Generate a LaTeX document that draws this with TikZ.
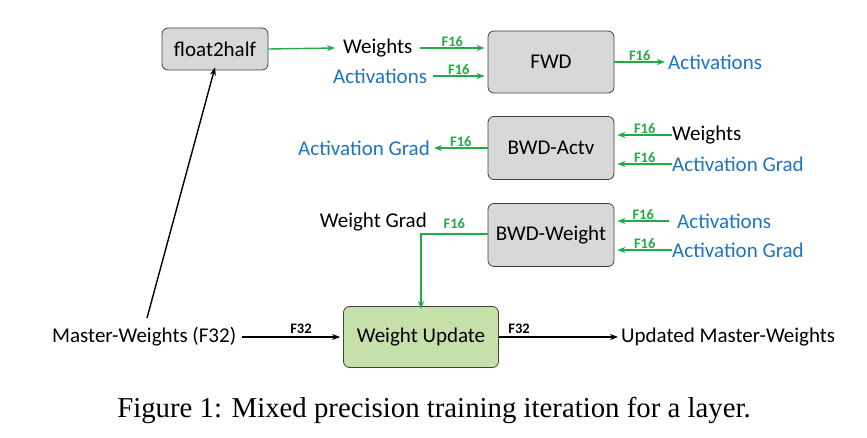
\documentclass[tikz,border=0pt]{standalone}
\usepackage{fontspec}
\setmainfont{Carlito}
\newfontfamily\capfont{Liberation Serif}
\usetikzlibrary{arrows.meta}
\definecolor{gr}{RGB}{34,170,70}
\definecolor{bl}{RGB}{30,115,195}
\definecolor{boxg}{RGB}{216,216,216}
\definecolor{boxgr}{RGB}{198,224,170}
\begin{document}
\begin{tikzpicture}[x=1pt,y=-1pt,
 box/.style={draw=black!75,line width=0.8pt,rounded corners=6pt,fill=boxg,font=\fontsize{21}{24}\selectfont},
 txt/.style={font=\fontsize{21}{24}\selectfont,inner sep=0pt},
 lab/.style={font=\bfseries\fontsize{14.5}{16}\selectfont,inner sep=1pt},
 ga/.style={draw=gr,line width=1.4pt,-{Stealth[length=8pt]}},
 ka/.style={draw=black,line width=1.4pt,-{Stealth[length=8pt]}}]
\useasboundingbox (0,0) rectangle (867,438);
\node[box,minimum width=106pt,minimum height=42pt] (f2h) at (215,49) {float2half};
\node[box,minimum width=126pt,minimum height=62pt] (fwd) at (551,62) {FWD};
\node[box,minimum width=126pt,minimum height=63pt] (ba) at (551,148) {BWD-Actv};
\node[box,minimum width=126pt,minimum height=63pt] (bw) at (551,235) {BWD-Weight};
\node[box,fill=boxgr,minimum width=155pt,minimum height=61pt] (wu) at (421,337) {Weight Update};
% FWD
\node[txt,anchor=west] (w1) at (343,48) {Weights};
\node[txt,text=bl,anchor=west] (a1) at (333,76) {Activations};
\coordinate (w1s) at (420,48); \coordinate (w1e) at ([xshift=-3pt]fwd.west|-w1s);
\coordinate (a1s) at (433,76); \coordinate (a1e) at ([xshift=-3pt]fwd.west|-a1s);
\draw[ga] (w1s) -- node[lab,text=gr,above] {F16} (w1e);
\draw[ga] (a1s) -- node[lab,text=gr,above] {F16} (a1e);
\draw[ga] (f2h.east) -- ([xshift=-8pt]w1.west);
\node[txt,text=bl,anchor=west] (a2) at (668,62) {Activations};
\draw[ga] (fwd.east) -- node[lab,text=gr,above] {F16} ([xshift=-3pt]a2.west);
% BWD-Actv
\node[txt,anchor=west] (w2) at (672,135) {Weights};
\node[txt,text=bl,anchor=west] (g1) at (672,164) {Activation Grad};
\draw[ga] (w2.west) -- node[lab,text=gr,above] {F16} ([xshift=3pt]ba.east|-w2.west);
\draw[ga] (g1.west) -- node[lab,text=gr,above] {F16} ([xshift=3pt]ba.east|-g1.west);
\node[txt,text=bl,anchor=east] (g2) at (430,148) {Activation Grad};
\draw[ga] (ba.west) -- node[lab,text=gr,above] {F16} ([xshift=4pt]g2.east);
% BWD-Weight
\node[txt,text=bl,anchor=west] (a3) at (677,221) {Activations};
\node[txt,text=bl,anchor=west] (g3) at (672,250) {Activation Grad};
\draw[ga] ([xshift=-8pt]a3.west) -- node[lab,text=gr,above] {F16} ([xshift=3pt]bw.east|-a3.west);
\draw[ga] (g3.west) -- node[lab,text=gr,above] {F16} ([xshift=3pt]bw.east|-g3.west);
\node[txt,anchor=east] (wg) at (427,222) {Weight Grad};
\coordinate (bend) at (421,234);
\draw[ga] (bw.west|-bend) -- node[lab,text=gr,above=4pt] {F16} (bend) -- ([yshift=-3pt]wu.north);
% master
\node[txt,anchor=west] (mw) at (52,337) {Master-Weights (F32)};
\draw[ka] ([xshift=6pt]mw.east) -- node[lab,above=2pt,pos=0.6] {F32} ([xshift=-3pt]wu.west);
\node[txt,anchor=west] (um) at (621,337) {Updated Master-Weights};
\draw[ka] (wu.east) -- node[lab,above=2pt,pos=0.17] {F32} ([xshift=-3pt]um.west);
\coordinate (mwt) at (147,318);
\draw[ka] (mwt) -- ([yshift=3pt]f2h.south);
\node[font=\capfont\fontsize{28.8}{32}\selectfont] (cap) at (434,410) {Figure 1: Mixed precision training iteration for a layer.};
\end{tikzpicture}
\end{document}
